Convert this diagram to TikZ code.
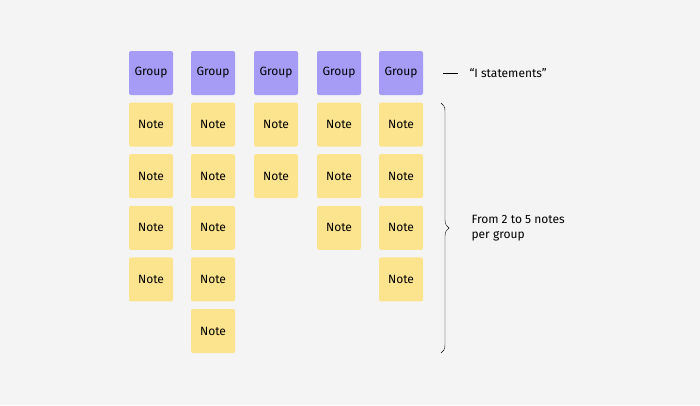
\documentclass[tikz,border=0pt]{standalone}
\usepackage{fontspec}
\setmainfont{Fira Sans}
\usetikzlibrary{decorations.pathreplacing}
\definecolor{bg}{HTML}{F4F4F4}
\definecolor{groupcol}{HTML}{A69CF6}
\definecolor{notecol}{HTML}{FCE48F}
\tikzset{
  card/.style={minimum width=44pt, minimum height=44pt, rounded corners=2pt, inner sep=0pt, font=\fontsize{12}{14}\selectfont},
  group/.style={card, fill=groupcol},
  note/.style={card, fill=notecol},
  side/.style={font=\fontsize{12}{15}\selectfont, align=left, anchor=west}
}
\begin{document}
\begin{tikzpicture}[x=1pt, y=-1pt]
		\fill [bg] (0,0) rectangle (700,405);
		\useasboundingbox (0,0) rectangle (700,405);
		% group row
		\foreach \c/\x/\n in {1/151/4, 2/213/5, 3/276/2, 4/339/3, 5/401/4} {
			\node [group] (g\c) at (\x, 73) {Group};
			\foreach \r in {1,...,\n}
				\node [note] (n\c-\r) at (\x, 73 + 51.6*\r) {Note};
		}
		% labels on the right
		\coordinate (dashl) at (443, 73);
		\coordinate (dashr) at (458, 73);
		\draw [thin] (dashl) -- (dashr);
		\node [side] (istate) at (466, 73) {“I statements”};
		\coordinate (bracetop) at (441, 103);
		\coordinate (bracebot) at (441, 353);
		\draw [thin, decorate, decoration={brace, amplitude=8pt}] (bracetop) -- (bracebot);
		\node [side] (range) at (468, 228) {From 2 to 5 notes\\per group};
\end{tikzpicture}
\end{document}
